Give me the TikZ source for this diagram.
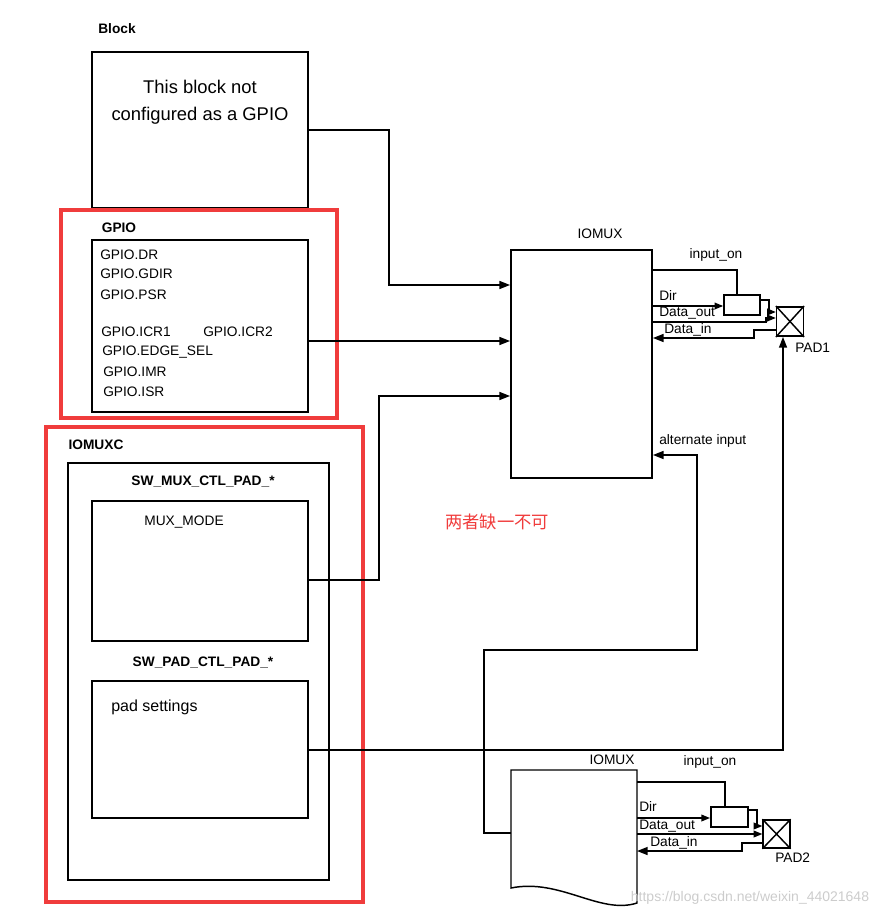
\documentclass[tikz,border=0pt]{standalone}
\usepackage{fontspec}
\setmainfont{Liberation Sans}
\newfontfamily\cjk{Noto Sans CJK SC}
\usetikzlibrary{arrows.meta}
\begin{document}
\begin{tikzpicture}[x=0.75pt,y=-0.75pt,
  box/.style={draw,line width=1.2pt,inner sep=0pt},
  red/.style={draw={rgb,255:red,240;green,60;blue,60},line width=3.6pt},
  lbl/.style={font=\fontsize{12}{14}\selectfont,inner sep=0pt},
  sm/.style={font=\fontsize{10.3}{12}\selectfont,inner sep=0pt},
  bl/.style={font=\bfseries\fontsize{10.3}{12}\selectfont,inner sep=0pt},
  w/.style={line width=1.1pt},
  ar/.style={w,-{Triangle[length=8pt,width=6pt]}},
  sar/.style={w,-{Triangle[length=6.5pt,width=5pt]}}]
\useasboundingbox (0,0) rectangle (891,916);
% boxes
\node[box,minimum width=162pt,minimum height=117pt] (blk) at (200,130) {};
\node[bl] at (117,29) {Block};
\node[font=\fontsize{13.8}{20}\selectfont,align=center] at (200,102) {This block not\\configured as a GPIO};
\draw[red] (61,210) rectangle (337,418);
\node[bl] at (119,228) {GPIO};
\node[box,minimum width=162pt,minimum height=129pt] (gpio) at (200,326) {};
\foreach \t/\xx/\yy in {GPIO.DR/100/255,GPIO.GDIR/100/274,GPIO.PSR/100/295,GPIO.ICR1/101/332,GPIO.ICR2/203/332,GPIO.EDGE\_SEL/102/352,GPIO.IMR/103/372,GPIO.ISR/103/392}
  \node[sm,anchor=west] at (\xx,\yy) {\t};
\draw[red] (46,427) rectangle (363,902);
\node[bl] at (96,445) {IOMUXC};
\draw[w] (68,463) rectangle (329,880);
\node[bl] at (203,482) {SW\_MUX\_CTL\_PAD\_*};
\node[box,minimum width=162pt,minimum height=105pt] (mux) at (200,571) {};
\node[sm] at (184,522) {MUX\_MODE};
\node[bl] at (203,663) {SW\_PAD\_CTL\_PAD\_*};
\node[box,minimum width=162pt,minimum height=103pt] (pad) at (200,749.5) {};
\node[lbl,anchor=west] at (111,707) {pad settings};
% IOMUX 1
\node[box,minimum width=106pt,minimum height=171pt] (iom) at (581.5,364) {};
\node[sm] at (600,234) {IOMUX};
\draw[ar] (blk.east |- 0,130) -- (389,130) -- (389,285) -- (iom.west |- 0,285);
\draw[ar] (gpio.east |- 0,341) -- (iom.west |- 0,341);
\draw[ar] (mux.east |- 0,580) -- (379,580) -- (379,396) -- (iom.west |- 0,396);
% PAD1
\node[box,minimum width=20pt,minimum height=22pt] (p1) at (790,321.5) {};
\draw[w] (p1.north west) -- (p1.south east) (p1.north east) -- (p1.south west);
\node[sm,anchor=west] at (795,348) {PAD1};
\node[box,minimum width=27pt,minimum height=15pt] (b1) at (742,305) {};
\draw[w] (iom.east |- 0,270) -- (737,270) -- (737,295);
\node[sm] at (716,255) {input\_on};
\draw[sar] (iom.east |- 0,306) -- (b1.west |- 0,306);
\node[sm,anchor=west] at (659,296) {Dir};
\draw[sar] (b1.east |- 0,300) -- (769,300) -- (769,312) -- (p1.west |- 0,312);
\draw[sar] (iom.east |- 0,322) -- (766,322) -- (766,318) -- (p1.west |- 0,318);
\node[sm,anchor=west] at (659,313) {Data\_out};
\draw[ar] (p1.west |- 0,330) -- (754,330) -- (754,338) -- (iom.east |- 0,338);
\node[sm,anchor=west] at (664,330) {Data\_in};
\draw[ar] (pad.east |- 0,750) -- (783,750) -- (p1.south -| 783,0);
% alternate input
\node[sm,anchor=west] at (659,441) {alternate input};
\node[font=\fontsize{13}{15}\selectfont,inner sep=0pt,text={rgb,255:red,240;green,60;blue,60}] at (497,522) {\cjk 两者缺一不可};
% IOMUX 2
\coordinate (i2nw) at (511,770);
\coordinate (i2ne) at (637,770);
\draw[w] (511,770) -- (637,770) -- (637,903) .. controls (600,915) and (560,878) .. (511,888) -- cycle;
\node[sm] at (612,760) {IOMUX};
\draw[ar] (i2nw |- 0,833) -- (484,833) -- (484,650) -- (697,650) -- (697,455) -- (iom.east |- 0,455);
\node[box,minimum width=20pt,minimum height=21pt] (p2) at (776.5,834) {};
\draw[w] (p2.north west) -- (p2.south east) (p2.north east) -- (p2.south west);
\node[sm,anchor=west] at (775,858) {PAD2};
\node[box,minimum width=28pt,minimum height=15pt] (b2) at (729.5,817) {};
\draw[w] (i2ne |- 0,782) -- (725,782) -- (725,807);
\node[sm] at (710,762) {input\_on};
\draw[sar] (i2ne |- 0,818) -- (b2.west |- 0,818);
\node[sm,anchor=west] at (639,807) {Dir};
\draw[sar] (b2.east |- 0,810) -- (757,810) -- (757,826) -- (p2.west |- 0,826);
\draw[sar] (i2ne |- 0,834) -- (p2.west |- 0,834);
\node[sm,anchor=west] at (639,826) {Data\_out};
\draw[ar] (p2.west |- 0,843) -- (742,843) -- (742,851) -- (i2ne |- 0,851);
\node[sm,anchor=west] at (650,843) {Data\_in};
\node[font=\fontsize{10.5}{12}\selectfont,text=black!20,inner sep=0pt] at (750,898) {https://blog.csdn.net/weixin\_44021648};
\end{tikzpicture}
\end{document}
